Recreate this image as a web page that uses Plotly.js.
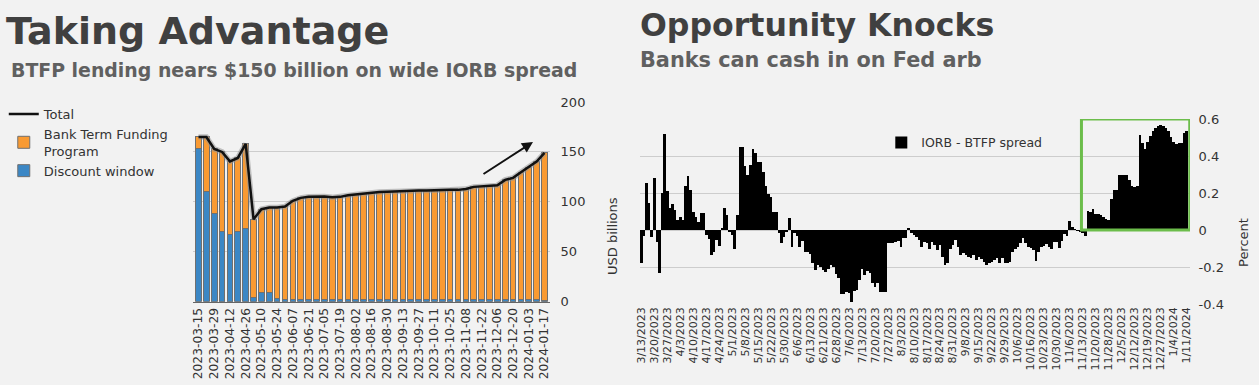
<!DOCTYPE html>
<html>
<head>
<meta charset="utf-8">
<script src="https://cdn.plot.ly/plotly-3.0.1.min.js"></script>
<style>
html,body{margin:0;padding:0;background:#f2f2f2;}
#chart{width:1259px;height:385px;}
</style>
</head>
<body>
<div id="chart"></div>
<script>
// ---------- Left chart: weekly Fed lending (USD billions) ----------
const weeks = [
 '2023-03-15','2023-03-22','2023-03-29','2023-04-05','2023-04-12','2023-04-19','2023-04-26',
 '2023-05-03','2023-05-10','2023-05-17','2023-05-24','2023-05-31','2023-06-07','2023-06-14',
 '2023-06-21','2023-06-28','2023-07-05','2023-07-12','2023-07-19','2023-07-26','2023-08-02',
 '2023-08-09','2023-08-16','2023-08-23','2023-08-30','2023-09-06','2023-09-13','2023-09-20',
 '2023-09-27','2023-10-04','2023-10-11','2023-10-18','2023-10-25','2023-11-01','2023-11-08',
 '2023-11-15','2023-11-22','2023-11-29','2023-12-06','2023-12-13','2023-12-20','2023-12-27',
 '2024-01-03','2024-01-10','2024-01-17'
];
const discountWindow = [153,110,88,70,67,70,73,4.7,8.8,8.8,3.7,2.7,2.7,2.7,2.7,2.7,2.7,2,2,2,2,2,2,2,2,2,2,2,2,2,2,2.5,2.5,2,2,2,2,2,2,2,2,2,2,2,1.5];
const btfp = [12,55,65,80,73.5,74,85,77.8,83.8,85.5,90.6,92.6,98.3,101.3,102.3,102.8,102.6,102.5,103,104.5,105.5,106.5,107.4,107.8,108,108.4,109,109,109.4,109.4,109.8,109.3,109.5,110,110.8,113,113.5,113.8,114.5,120,122,127.6,132.7,138.4,147.5];
const total = [165,165,153,150,140.5,144,158,82.5,92.6,94.3,94.3,95.3,101,104,105,105.5,105.3,104.5,105,106.5,107.5,108.5,109.4,109.8,110,110.4,111,111,111.4,111.4,111.8,111.8,112,112,112.8,115,115.5,115.8,116.5,122,124,129.6,134.7,140.4,149];
const leftTicks = [0,50,100,150,200];

// ---------- Right chart: daily IORB - BTFP spread (percent) ----------
const spreadStart = '2023-03-13';
const spreadEnd = '2024-01-11';
const holidays = ['2023-05-29','2023-06-19','2023-07-04','2023-09-04','2023-10-09','2023-11-23','2023-12-25','2024-01-01'];
const spread = [
 -0.18,-0.03,0.256,0.148,-0.04,
 0.28,-0.063,-0.23,0.2,0.52,
 0.21,0.12,0.14,0.11,0.054,
 0.072,0.054,0.238,0.29,0.216,
 0.10,0.072,0.045,0.09,0.09,
 -0.027,-0.05,-0.135,-0.117,-0.054,
 -0.086,0.009,0.12,0.08,-0.01,
 -0.027,-0.1,0.08,0.45,0.45,
 0.346,0.30,0.35,0.44,0.414,
 0.37,0.37,0.315,0.238,0.193,
 0.18,0.1,0.1,-0.018,-0.07,
 -0.036,-0.01,0.063,-0.09,-0.018,
 -0.03,-0.09,-0.06,-0.117,-0.117,
 -0.13,-0.18,-0.216,-0.19,-0.2,
 -0.216,-0.225,-0.21,-0.19,-0.2,
 -0.238,-0.26,-0.348,-0.348,-0.333,
 -0.34,-0.387,-0.33,-0.324,-0.27,
 -0.21,-0.243,-0.22,-0.235,-0.288,
 -0.306,-0.285,-0.333,-0.333,-0.333,
 -0.068,-0.068,-0.068,-0.063,-0.06,
 -0.09,-0.045,-0.045,0.009,-0.018,
 -0.027,-0.036,-0.054,-0.09,-0.063,
 -0.072,-0.1,-0.063,-0.081,-0.108,
 -0.081,-0.144,-0.19,-0.18,-0.1,
 -0.081,-0.054,-0.09,-0.135,-0.126,
 -0.135,-0.144,-0.153,-0.135,-0.162,
 -0.144,-0.158,-0.171,-0.19,-0.18,
 -0.171,-0.162,-0.153,-0.18,-0.153,
 -0.18,-0.18,-0.175,-0.12,-0.1,
 -0.09,-0.072,-0.045,-0.072,-0.09,
 -0.095,-0.11,-0.167,-0.12,-0.09,
 -0.085,-0.076,-0.09,-0.1,-0.067,
 -0.067,-0.095,-0.06,-0.02,-0.03,
 0.05,0.015,0.005,-0.004,-0.01,
 -0.018,-0.03,0.105,0.096,0.115,
 0.087,0.087,0.08,0.069,0.06,
 0.055,0.169,0.218,0.218,0.30,
 0.30,0.30,0.30,0.27,0.24,
 0.23,0.24,0.515,0.47,0.436,
 0.478,0.51,0.533,0.55,0.56,
 0.569,0.564,0.55,0.533,0.505,
 0.478,0.465,0.47,0.473,0.524,
 0.533
];
const rightTickVals = [-0.4,-0.2,0,0.2,0.4,0.6];
const rightTickText = ['-0.4','-0.2','0','0.2','0.4','0.6'];
const boxStartDate = '11/13/2023';
const boxTop = 0.6;

// business-day category labels (M/D/YYYY)
function businessDays(start, end, hol) {
  const out = [];
  const d = new Date(start + 'T12:00:00Z');
  const e = new Date(end + 'T12:00:00Z');
  while (d <= e) {
    const iso = d.toISOString().slice(0,10);
    const wd = d.getUTCDay();
    if (wd !== 0 && wd !== 6 && hol.indexOf(iso) < 0) {
      out.push((d.getUTCMonth()+1) + '/' + d.getUTCDate() + '/' + d.getUTCFullYear());
    }
    d.setUTCDate(d.getUTCDate() + 1);
  }
  return out;
}
const days = businessDays(spreadStart, spreadEnd, holidays);
const dayTicks = days.filter((d,i) => i % 5 === 0);
const weekTicks = weeks.filter((d,i) => i % 2 === 0);

const FONT = 'DejaVu Sans, Verdana, sans-serif';
const ORANGE = '#f99a32', BLUE = '#3b87c5';

const traces = [
  {type:'bar', x:weeks, y:discountWindow, name:'Discount window', xaxis:'x', yaxis:'y',
   marker:{color:BLUE, line:{color:'#707070', width:1}}, width:0.72},
  {type:'bar', x:weeks, y:btfp, name:'Bank Term Funding<br>Program', xaxis:'x', yaxis:'y',
   marker:{color:ORANGE, line:{color:'#707070', width:1}}, width:0.72},
  {type:'scatter', mode:'lines', x:weeks, y:total, showlegend:false, hoverinfo:'skip', xaxis:'x', yaxis:'y',
   line:{color:'rgba(150,150,150,0.55)', width:5.5}},
  {type:'scatter', mode:'lines', x:weeks, y:total, name:'Total', xaxis:'x', yaxis:'y',
   line:{color:'#111111', width:2.5}},
  {type:'bar', x:days, y:spread, name:'IORB - BTFP spread', xaxis:'x2', yaxis:'y2',
   marker:{color:'#000000', line:{width:0}}, width:1, legend:'legend2'}
];

const boxX0 = days.indexOf(boxStartDate) - 0.5;
const boxX1 = days.length + 0.2;

const layout = {
  width:1259, height:385,
  paper_bgcolor:'#f2f2f2', plot_bgcolor:'#f2f2f2',
  margin:{l:0,r:0,t:0,b:0},
  font:{family:FONT, color:'#333', size:12},
  barmode:'stack',
  showlegend:true,
  legend:{x:0.003, y:1-99/385, xanchor:'left', yanchor:'top', traceorder:'reversed',
          font:{family:FONT, size:13, color:'#333'}, bgcolor:'rgba(0,0,0,0)', tracegroupgap:4, itemwidth:30},
  legend2:{x:0.700, y:0.668, xanchor:'left', yanchor:'top',
          font:{family:FONT, size:12.5, color:'#333'}, bgcolor:'rgba(0,0,0,0)'},
  xaxis:{domain:[193/1259, 550/1259], anchor:'y', type:'category', range:[-0.7, weeks.length-0.3],
         tickmode:'array', tickvals:weekTicks, ticktext:weekTicks, tickangle:-90,
         tickfont:{family:FONT, size:12.3, color:'#333'}, showline:true, linecolor:'#666', linewidth:1.2,
         showgrid:false, ticks:'', fixedrange:true},
  yaxis:{domain:[1-301.7/385, 1-102/385], anchor:'x', side:'right', range:[0,200],
         tickmode:'array', tickvals:leftTicks, ticks:'outside', ticklen:7, tickcolor:'rgba(0,0,0,0)',
         tickfont:{family:FONT, size:13, color:'#333'}, gridcolor:'#cdcdcd', gridwidth:1,
         zeroline:false, showline:false},
  xaxis2:{domain:[640/1259, 1190/1259], anchor:'y2', type:'category', range:[-0.5, days.length+0.3],
          tickmode:'array', tickvals:dayTicks, ticktext:dayTicks, tickangle:-90,
          tickfont:{family:FONT, size:11, color:'#333'}, showline:false, showgrid:false, ticks:''},
  yaxis2:{domain:[1-304/385, 1-119/385], anchor:'x2', side:'right', range:[-0.4,0.6],
          tickmode:'array', tickvals:rightTickVals, ticktext:rightTickText,
          ticks:'outside', ticklen:5, tickcolor:'rgba(0,0,0,0)',
          tickfont:{family:FONT, size:13, color:'#333'}, gridcolor:'#cdcdcd', gridwidth:1,
          zeroline:false, showline:false},
  shapes:[
    {type:'rect', xref:'x2', yref:'y2', x0:boxX0, x1:boxX1, y0:0, y1:boxTop,
     line:{color:'#6cbd4b', width:3}, fillcolor:'rgba(0,0,0,0)'}
  ],
  annotations:[
    {text:'<b>Taking Advantage</b>', xref:'paper', yref:'paper', x:4/1259, y:1-7/385,
     xanchor:'left', yanchor:'top', showarrow:false, font:{family:FONT, size:38, color:'#404040'}},
    {text:'<b>BTFP lending nears $150 billion on wide IORB spread</b>', xref:'paper', yref:'paper', x:9/1259, y:1-57/385,
     xanchor:'left', yanchor:'top', showarrow:false, font:{family:FONT, size:18.9, color:'#606060'}},
    {text:'<b>Opportunity Knocks</b>', xref:'paper', yref:'paper', x:638/1259, y:1-5/385,
     xanchor:'left', yanchor:'top', showarrow:false, font:{family:FONT, size:31.6, color:'#404040'}},
    {text:'<b>Banks can cash in on Fed arb</b>', xref:'paper', yref:'paper', x:638/1259, y:1-46/385,
     xanchor:'left', yanchor:'top', showarrow:false, font:{family:FONT, size:20.8, color:'#606060'}},
    {text:'USD billions', xref:'paper', yref:'paper', x:612/1259, y:1-236/385, textangle:-90,
     xanchor:'center', yanchor:'middle', showarrow:false, font:{family:FONT, size:13, color:'#333'}},
    {text:'Percent', xref:'paper', yref:'paper', x:1243/1259, y:1-243/385, textangle:-90,
     xanchor:'center', yanchor:'middle', showarrow:false, font:{family:FONT, size:13, color:'#333'}},
    {text:'', xref:'paper', yref:'paper', x:533/1259, y:1-142/385, ax:-51, ay:33, axref:'pixel', ayref:'pixel',
     showarrow:true, arrowhead:2, arrowsize:1.1, arrowwidth:2, arrowcolor:'#111'}
  ]
};

Plotly.newPlot('chart', traces, layout, {displayModeBar:false, staticPlot:true});
</script>
</body>
</html>
